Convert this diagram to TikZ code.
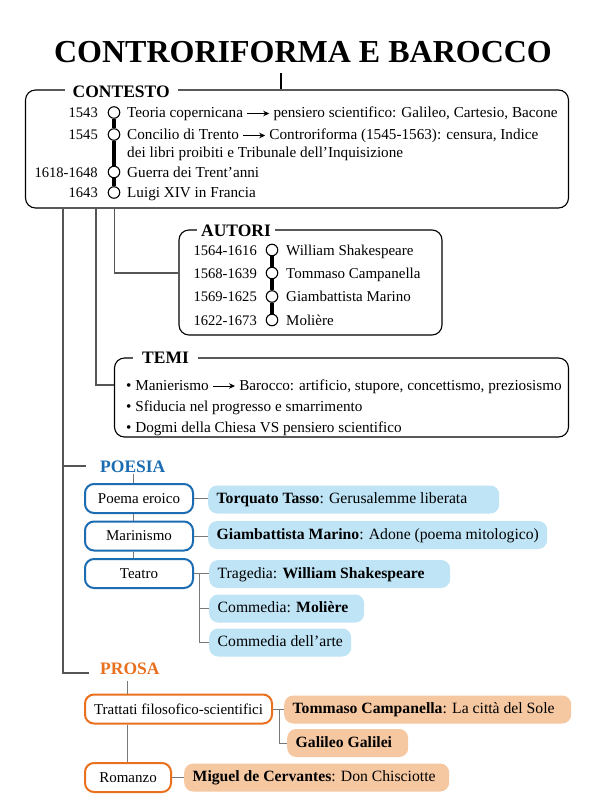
\documentclass[tikz,border=0pt]{standalone}
\usepackage{fontspec}
\setmainfont{Liberation Serif}
\usetikzlibrary{arrows.meta}
\definecolor{pblue}{RGB}{28,108,178}
\definecolor{pbluefill}{RGB}{190,228,246}
\definecolor{porange}{RGB}{232,112,30}
\definecolor{porangefill}{RGB}{246,200,162}
\definecolor{treegray}{RGB}{85,85,85}
\definecolor{conngray}{RGB}{120,120,120}
\newcommand\bodyfont{\fontsize{15.2}{17.5}\selectfont}
\newcommand\namefont{\fontsize{15}{17.5}\selectfont}
\newcommand\yearfont{\fontsize{14.6}{17.5}\selectfont}
\newcommand\labfont{\fontsize{15}{17.5}\selectfont}
\newcommand\fillfont{\fontsize{15.7}{18}\selectfont}
\newcommand\tarr{\tikz[baseline=-4pt]\draw[line width=0.9pt,-{Stealth[length=6pt,width=5.5pt]}](0pt,0pt)--(22pt,0pt);}
\newcommand\lft[2]{\makebox[#1][l]{#2}}
\tikzset{
  bigbox/.style={draw=black, line width=1.1pt, rounded corners=10pt},
  hdr/.style={font=\fontsize{17.5}{20}\selectfont\bfseries, fill=white, inner ysep=1pt, anchor=base west},
  tl/.style={circle, draw=black, fill=white, line width=1.1pt, minimum size=11.5pt, inner sep=0pt},
  bar/.style={line width=3.8pt},
  yr/.style={font=\yearfont, anchor=base east, inner sep=0pt},
  tx/.style={font=\bodyfont, anchor=base west, inner sep=0pt},
  nm/.style={font=\namefont, anchor=base west, inner sep=0pt},
  tree/.style={draw=treegray, line width=1.3pt},
  conn/.style={draw=conngray, line width=1pt},
  cbox/.style={draw=#1, fill=white, line width=2pt, rounded corners=9pt, minimum height=29pt, inner sep=0pt, font=\labfont},
  fbox/.style={fill=#1, rounded corners=9pt, minimum height=28pt, inner ysep=0pt, inner xsep=8.5pt, anchor=west, font=\fillfont, text height=11pt, text depth=3pt},
  sect/.style={font=\fontsize{17.5}{20}\selectfont\bfseries, text=#1, anchor=base west, inner sep=0pt}
}
\begin{document}
\begin{tikzpicture}[x=1pt,y=-1pt]
\useasboundingbox[fill=white] (0,0) rectangle (595,806);

% title
\node[font=\fontsize{32}{36}\selectfont\bfseries, anchor=base, inner sep=0pt] (title) at (303,62) {CONTRORIFORMA E BAROCCO};

% CONTESTO
\node[bigbox, minimum width=543pt, minimum height=118pt] (contesto) at (297,149) {};
\coordinate (tt) at (281,73);
\draw[line width=1.1pt] (tt) -- (tt |- contesto.north);
\node[hdr, inner xsep=8pt] (hcont) at (64.5,97) {CONTESTO};

\node[tl] (c1) at (114,112.5) {};
\node[tl] (c2) at (114,134.5) {};
\node[tl] (c3) at (114,172) {};
\node[tl] (c4) at (114,192.5) {};
\draw[bar] (c1.south) -- (c2.north) (c2.south) -- (c3.north) (c3.south) -- (c4.north);
\node[yr] (y1) at (98,117.5) {1543};
\node[yr] (y2) at (98,139.5) {1545};
\node[yr] (y3) at (98,177) {1618-1648};
\node[yr] (y4) at (98,197.5) {1643};
\node[tx] (t1) at (127,117.5) {Teoria copernicana \tarr\ pensiero scientifico: Galileo, Cartesio, Bacone};
\node[tx] (t2) at (127,139.5) {Concilio di Trento \tarr\ Controriforma (1545-1563): censura, Indice};
\node[tx] (t2b) at (127,157) {dei libri proibiti e Tribunale dell’Inquisizione};
\node[tx] (t3) at (127,177) {Guerra dei Trent’anni};
\node[tx] (t4) at (127,197.5) {Luigi XIV in Francia};

% AUTORI
\node[bigbox, minimum width=263pt, minimum height=105pt] (autori) at (310.5,282.5) {};
\node[hdr, inner xsep=4pt] (haut) at (197,236) {AUTORI};
\node[tl] (a1) at (272,250) {};
\node[tl] (a2) at (272,273) {};
\node[tl] (a3) at (272,296.5) {};
\node[tl] (a4) at (272,320) {};
\draw[bar] (a1.south) -- (a2.north) (a2.south) -- (a3.north) (a3.south) -- (a4.north);
\node[yr] (ay1) at (257,255) {1564-1616};
\node[yr] (ay2) at (257,278) {1568-1639};
\node[yr] (ay3) at (257,301.5) {1569-1625};
\node[yr] (ay4) at (257,325) {1622-1673};
\node[nm] (an1) at (286,255) {William Shakespeare};
\node[nm] (an2) at (286,278) {Tommaso Campanella};
\node[nm] (an3) at (286,301.5) {Giambattista Marino};
\node[nm] (an4) at (286,325) {Molière};

% TEMI
\node[bigbox, minimum width=454pt, minimum height=79pt] (temi) at (341.5,397.5) {};
\node[hdr, inner xsep=9pt] (htemi) at (133,363.5) {TEMI};
\node[tx] (m1) at (126,390) {\textbullet\ Manierismo \tarr\ Barocco: artificio, stupore, concettismo, preziosismo};
\node[tx] (m2) at (126,411) {\textbullet\ Sfiducia nel progresso e smarrimento};
\node[tx] (m3) at (126,432) {\textbullet\ Dogmi della Chiesa VS pensiero scientifico};

% tree from CONTESTO
\coordinate (ka) at (114.5,273);
\coordinate (kb) at (96,385);
\coordinate (kc) at (63,673);
\draw[tree] (contesto.south -| ka) -- (ka) -- (ka -| autori.west);
\draw[tree] (contesto.south -| kb) -- (kb) -- (kb -| temi.west);

% POESIA
\node[sect=pblue] (poesia) at (100,472) {POESIA};
\node[sect=porange] (prosa) at (100,674) {PROSA};
\draw[tree] (contesto.south -| kc) -- (kc) -- ([xshift=-11pt]kc -| prosa.west);
\coordinate (kp) at (63,466);
\draw[tree] (kp) -- ([xshift=-14pt]kp -| poesia.west);

\node[cbox=pblue, minimum width=108pt] (poema) at (139,498.5) {Poema eroico};
\node[cbox=pblue, minimum width=108pt] (marin) at (139,536) {Marinismo};
\node[cbox=pblue, minimum width=108pt] (teatro) at (139,573.5) {Teatro};
\coordinate (px) at (133,0);
\draw[conn] ([yshift=-2pt]poesia.south -| px) -- (poema.north -| px);
\draw[conn] (poema.south -| px) -- (marin.north -| px);
\draw[conn] (marin.south -| px) -- (teatro.north -| px);

\node[fbox=pbluefill] (tasso) at (208,499.5) {\lft{274pt}{\textbf{Torquato Tasso}: Gerusalemme liberata}};
\node[fbox=pbluefill] (marino) at (208,535) {\lft{322pt}{\textbf{Giambattista Marino}: Adone (poema mitologico)}};
\node[fbox=pbluefill] (trag) at (209,574) {\lft{224pt}{Tragedia: \textbf{William Shakespeare}}};
\node[fbox=pbluefill] (moli) at (209,608.5) {\lft{138pt}{Commedia: \textbf{Molière}}};
\node[fbox=pbluefill] (arte) at (209,642.5) {\lft{125pt}{Commedia dell’arte}};
\draw[conn] (poema.east) -- (poema.east -| tasso.west);
\draw[conn] (marin.east) -- (marin.east -| marino.west);
\coordinate (tj) at (199,573.5);
\draw[conn] (teatro.east) -- (teatro.east -| trag.west);
\draw[conn] (tj) |- (moli.west);
\draw[conn] (tj) |- (arte.west);

% PROSA
\node[cbox=porange, minimum width=187pt] (tratt) at (178.5,709) {Trattati filosofico-scientifici};
\node[cbox=porange, minimum width=86pt] (roman) at (128,777.5) {Romanzo};
\coordinate (rx) at (127,0);
\draw[conn] ([yshift=-7pt]prosa.south -| rx) -- (tratt.north -| rx);
\draw[conn] (tratt.south -| rx) -- (roman.north -| rx);

\node[fbox=porangefill] (camp) at (284,709.5) {\lft{270pt}{\textbf{Tommaso Campanella}: La città del Sole}};
\node[fbox=porangefill] (gali) at (287,743) {\lft{104pt}{\textbf{Galileo Galilei}}};
\node[fbox=porangefill] (cerv) at (184,777.5) {\lft{248pt}{\textbf{Miguel de Cervantes}: Don Chisciotte}};
\coordinate (gj) at (279,709);
\draw[conn] (tratt.east) -- (tratt.east -| camp.west);
\draw[conn] (gj) |- (gali.west);
\draw[conn] (roman.east) -- (roman.east -| cerv.west);
\end{tikzpicture}
\end{document}
